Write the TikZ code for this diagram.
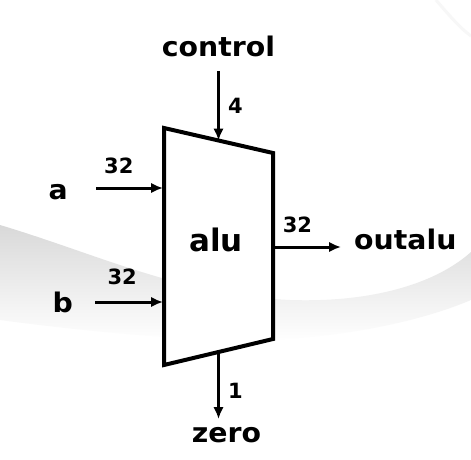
\documentclass[tikz,border=0pt]{standalone}
\usepackage{fontspec}
\setmainfont{DejaVu Sans}
\newfontfamily\lblfont{DejaVu Sans}[FakeStretch=1.05]
\usetikzlibrary{arrows.meta,positioning,calc}
\begin{document}
\begin{tikzpicture}[x=1pt,y=-1pt,
  wire/.style={line width=3pt,-{Latex[length=12pt,width=10.5pt]}},
  lbl/.style={font=\lblfont\bfseries\fontsize{27}{27}\selectfont,inner sep=0pt},
  bus/.style={font=\bfseries\fontsize{21}{21}\selectfont,inner sep=0pt}]
\useasboundingbox (0,0) rectangle (471,460);
\fill[white] (0,0) rectangle (471,460);
% background swoosh
\shade[top color=gray!30,bottom color=white] (0,225) .. controls (100,255) and (180,295) .. (290,300)
  .. controls (380,303) and (440,280) .. (471,252) -- (471,300) .. controls (400,330) and (300,342) .. (230,340)
  .. controls (150,338) and (60,328) .. (0,320) -- cycle;
\draw[gray!6,line width=3pt] (436,0) .. controls (448,14) and (460,28) .. (471,36);
% alu body
\coordinate (tl) at (164,128);
\coordinate (tr) at (273,153);
\coordinate (br) at (273,339);
\coordinate (bl) at (164,365);
\draw[line width=4pt,fill=white] (tl) -- (tr) -- (br) -- (bl) -- cycle;
\node[font=\bfseries\fontsize{31}{31}\selectfont,inner sep=0pt] (alu) at (216,240) {alu};
% control
\coordinate (cin) at (218.5,71);
\coordinate (ctop) at ($(tl)!0.5!(tr)$);
\node[lbl,above=14pt of cin] (control) {control};
\draw[wire] (cin) -- node[bus,right=8pt] (ctrlw) {4} (ctop);
% inputs
\coordinate (ain) at (96,188);
\coordinate (ina) at (163,188);
\node[lbl,left=28pt of ain,yshift=-4pt] (a) {a};
\draw[wire] (ain) -- node[bus,pos=0.34,above=13pt] (aw) {32} (ina);
\coordinate (bin) at (95,302);
\coordinate (inb) at (163,302);
\node[lbl,left=22pt of bin] (b) {b};
\draw[wire] (bin) -- node[bus,pos=0.4,above=16pt] (bw) {32} (inb);
% output
\coordinate (outs) at (275,247);
\coordinate (oute) at (341,247);
\node[lbl,right=13pt of oute,yshift=8pt] (outalu) {outalu};
\draw[wire] (outs) -- node[bus,pos=0.34,above=13pt] (ow) {32} (oute);
% zero flag
\coordinate (zbot) at ($(bl)!0.5!(br)$);
\coordinate (zend) at (218.5,419);
\node[lbl,below=8pt of zend,xshift=8pt] (zero) {zero};
\draw[wire] (zbot) -- node[bus,pos=0.58,right=8pt] (zw) {1} (zend);
\end{tikzpicture}
\end{document}
